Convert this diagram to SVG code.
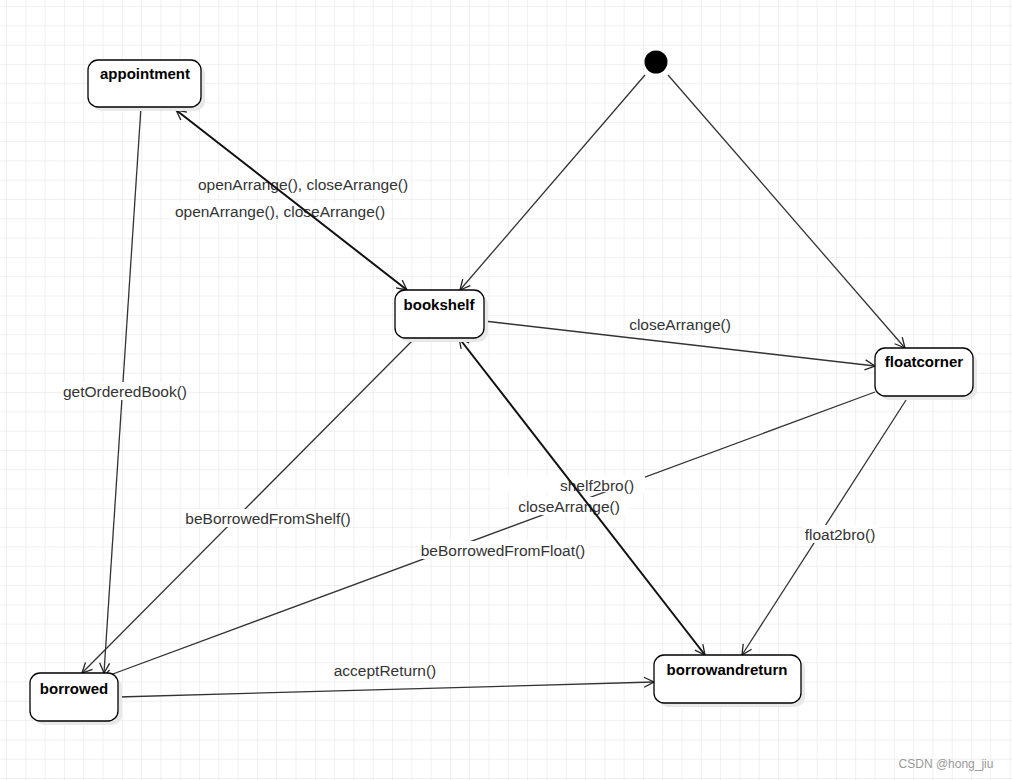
<svg xmlns="http://www.w3.org/2000/svg" width="1012" height="780" viewBox="0 0 1012 780">
<defs>
<pattern id="grid" width="19.3" height="19.3" patternUnits="userSpaceOnUse" x="7" y="7">
<path d="M19.3 0 V19.3 M0 19.3 H19.3" fill="none" stroke="#e2e2e2" stroke-width="1"/>
</pattern>
<marker id="arr" viewBox="0 0 12 12" refX="11" refY="6" markerWidth="12" markerHeight="12" markerUnits="userSpaceOnUse" orient="auto-start-reverse">
<path d="M1 1 L11 6 L1 11" fill="none" stroke="#222" stroke-width="1.3"/>
</marker>
</defs>
<style>
.n rect.b{fill:#fff;stroke:#000;stroke-width:1.3}
.n rect.s{fill:#e8e8e8}
.n text{font-family:"Liberation Sans",Arial,sans-serif;font-weight:bold;font-size:15px;text-anchor:middle}
.e line{stroke:#333;stroke-width:1.3;fill:none}
.e line.d{stroke:#111;stroke-width:2}
.l{font-family:"Liberation Sans",Arial,sans-serif;font-size:15.5px;fill:#333;text-anchor:middle}
.bg{fill:#fff}
</style>
<rect width="1012" height="780" fill="#fff"/>
<rect width="1012" height="780" fill="url(#grid)"/>
<g class="e">
<line x1="645" y1="75" x2="460" y2="290" marker-end="url(#arr)"/>
<line x1="668" y1="75" x2="905" y2="348" marker-end="url(#arr)"/>
<line x1="484" y1="321" x2="875" y2="366" marker-end="url(#arr)"/>
<line x1="141" y1="107" x2="104" y2="673" marker-end="url(#arr)"/>
<line x1="415" y1="338" x2="82" y2="673" marker-end="url(#arr)"/>
<line x1="875" y1="392" x2="102" y2="678" marker-end="url(#arr)"/>
<line x1="908" y1="397" x2="742" y2="655" marker-end="url(#arr)"/>
<line x1="118" y1="697" x2="654" y2="682" marker-end="url(#arr)"/>
</g>
<g id="labels">
<rect class="bg" x="195" y="175" width="216" height="18"/>
<text class="l" x="303" y="190">openArrange(), closeArrange()</text>
<rect class="bg" x="172" y="202" width="216" height="18"/>
<text class="l" x="280" y="217">openArrange(), closeArrange()</text>
<text class="l" x="680" y="330">closeArrange()</text>
<rect class="bg" x="61" y="382" width="128" height="18"/>
<text class="l" x="125" y="397">getOrderedBook()</text>
<rect class="bg" x="183" y="509" width="170" height="18"/>
<text class="l" x="268" y="524">beBorrowedFromShelf()</text>
<rect class="bg" x="490" y="476" width="155" height="16"/>
<text class="l" x="597" y="491">shelf2bro()</text>
<rect class="bg" x="510" y="497" width="118" height="18"/>
<text class="l" x="569" y="512">closeArrange()</text>
<rect class="bg" x="418" y="541" width="170" height="18"/>
<text class="l" x="503" y="556">beBorrowedFromFloat()</text>
<rect class="bg" x="803" y="525" width="76" height="18"/>
<text class="l" x="840" y="540">float2bro()</text>
<text class="l" x="385" y="676">acceptReturn()</text>
</g>
<g class="e">
<line class="d" x1="176" y1="110" x2="407" y2="290" marker-start="url(#arr)" marker-end="url(#arr)"/>
<line class="d" x1="459" y1="338" x2="705" y2="655" marker-start="url(#arr)" marker-end="url(#arr)"/>
</g>
<circle id="start" cx="656" cy="62" r="11.5" fill="#000"/>
<g id="appointment" class="n"><rect class="s" x="92" y="64" width="113" height="47" rx="10"/><rect class="b" x="88" y="60" width="113" height="47" rx="10"/><text x="145" y="79">appointment</text></g>
<g id="bookshelf" class="n"><rect class="s" x="399" y="294" width="89" height="48" rx="10"/><rect class="b" x="395" y="290" width="89" height="48" rx="10"/><text x="439" y="310">bookshelf</text></g>
<g id="floatcorner" class="n"><rect class="s" x="879" y="352" width="98" height="48" rx="10"/><rect class="b" x="875" y="348" width="98" height="48" rx="10"/><text x="924" y="367">floatcorner</text></g>
<g id="borrowed" class="n"><rect class="s" x="34" y="677" width="88" height="48" rx="10"/><rect class="b" x="30" y="673" width="88" height="48" rx="10"/><text x="74" y="694">borrowed</text></g>
<g id="borrowandreturn" class="n"><rect class="s" x="658" y="659" width="147" height="48" rx="10"/><rect class="b" x="654" y="655" width="147" height="48" rx="10"/><text x="727" y="675">borrowandreturn</text></g>
<text x="946" y="768" font-family="Liberation Sans,Arial,sans-serif" font-size="12" fill="#999" text-anchor="middle">CSDN @hong_jiu</text>
</svg>
